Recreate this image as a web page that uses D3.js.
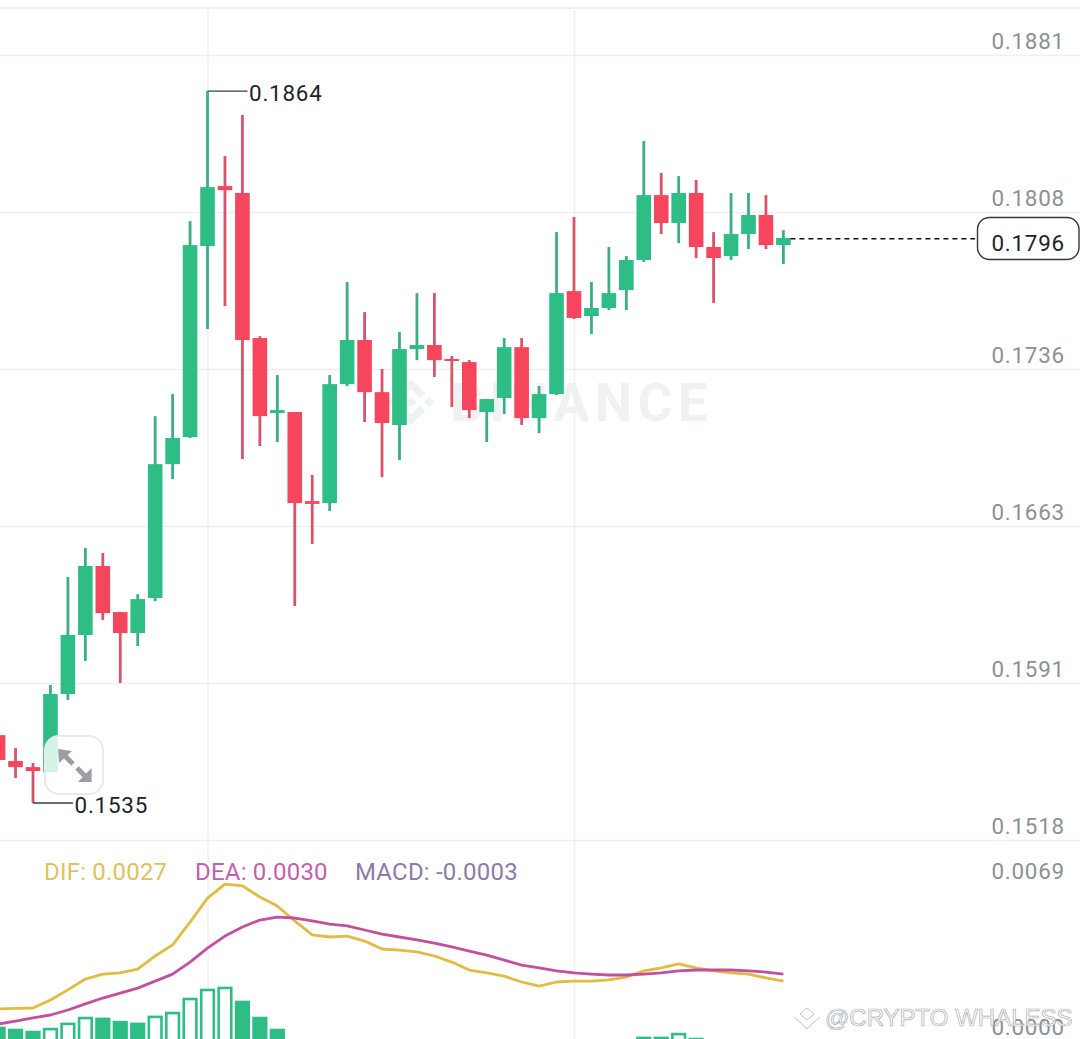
<!DOCTYPE html>
<html>
<head>
<meta charset="utf-8">
<style>
  html, body { margin: 0; padding: 0; background: #fff; overflow: hidden; }
  svg { display: block; font-family: Roboto, sans-serif; }
</style>
<script src="https://cdn.jsdelivr.net/npm/d3@7"></script>
</head>
<body>
<svg></svg>
<script>
// candles
var opens = [0.15665,0.15545,0.15517,0.15494,0.15855,0.16128,0.16447,0.16234,0.16137,0.16299,0.16918,0.17043,0.17927,0.18204,0.18172,0.17501,0.17154,0.17159,0.16747,0.16738,0.17288,0.17492,0.17251,0.17099,0.17450,0.17469,0.17404,0.17390,0.17159,0.17224,0.17459,0.17131,0.17242,0.17718,0.17603,0.17640,0.17723,0.17862,0.18162,0.18033,0.18172,0.17922,0.17880,0.17982,0.18070,0.17931];
var highs = [0.15665,0.15605,0.15536,0.15897,0.16396,0.16530,0.16507,0.16234,0.16317,0.17140,0.17242,0.18042,0.18643,0.18343,0.18532,0.17510,0.17330,0.17159,0.16868,0.17330,0.17760,0.17621,0.17358,0.17529,0.17709,0.17709,0.17418,0.17399,0.17219,0.17501,0.17501,0.17279,0.17991,0.18061,0.17760,0.17922,0.17880,0.18412,0.18264,0.18250,0.18232,0.17991,0.18172,0.18172,0.18162,0.18000];
var lows = [0.15541,0.15467,0.15351,0.15494,0.15827,0.16008,0.16197,0.15906,0.16077,0.16285,0.16849,0.17039,0.17543,0.17649,0.16942,0.17002,0.17020,0.16262,0.16549,0.16701,0.17279,0.17113,0.16858,0.16937,0.17399,0.17321,0.17182,0.17131,0.17020,0.17150,0.17099,0.17062,0.17238,0.17589,0.17520,0.17631,0.17631,0.17853,0.17982,0.17940,0.17871,0.17663,0.17862,0.17913,0.17913,0.17843];
var closes = [0.15550,0.15517,0.15499,0.15855,0.16128,0.16447,0.16229,0.16137,0.16294,0.16918,0.17039,0.17931,0.18199,0.18185,0.17492,0.17140,0.17168,0.16738,0.16734,0.17288,0.17492,0.17251,0.17108,0.17450,0.17469,0.17399,0.17395,0.17168,0.17219,0.17459,0.17131,0.17242,0.17709,0.17594,0.17640,0.17709,0.17862,0.18162,0.18033,0.18172,0.17922,0.17871,0.17982,0.18070,0.17931,0.17964];

// MACD panel
var dif = [0.00142,0.00144,0.00146,0.00181,0.00226,0.00274,0.00296,0.00301,0.00318,0.00376,0.00425,0.00526,0.00632,0.00694,0.00686,0.00637,0.00597,0.00531,0.00469,0.00460,0.00464,0.00442,0.00407,0.00402,0.00394,0.00376,0.00349,0.00314,0.00301,0.00287,0.00261,0.00243,0.00261,0.00265,0.00265,0.00270,0.00283,0.00310,0.00323,0.00341,0.00323,0.00310,0.00301,0.00296,0.00279,0.00265];
var dea = [0.00075,0.00088,0.00102,0.00115,0.00137,0.00164,0.00190,0.00212,0.00234,0.00265,0.00296,0.00349,0.00411,0.00464,0.00504,0.00535,0.00548,0.00544,0.00531,0.00517,0.00509,0.00491,0.00473,0.00460,0.00447,0.00433,0.00416,0.00398,0.00380,0.00358,0.00336,0.00323,0.00310,0.00301,0.00296,0.00292,0.00292,0.00296,0.00301,0.00310,0.00314,0.00314,0.00314,0.00310,0.00305,0.00296];
// null = bar hangs below the bottom edge of the photo
var macdBars = [0.00062,0.00053,0.00044,0.00057,0.00080,0.00106,0.00102,0.00088,0.00080,0.00111,0.00128,0.00190,0.00230,0.00239,0.00177,0.00106,0.00053,null,null,null,null,null,null,null,null,null,null,null,null,null,null,null,null,null,null,null,null,0.00018,0.00018,0.00035,0.00013,null,null,null,null,null];

var priceTicks = [0.1881, 0.18084, 0.17358, 0.16632, 0.15906, 0.1518];
var macdTicks = [0.0069, 0];
var gridCandles = [12, 33];
var lastPrice = 0.1796;
var highLabel = { index: 12, price: 0.18643, text: '0.1864' };
var lowLabel = { index: 2, price: 0.15351, text: '0.1535' };
var legend = [
  { text: 'DIF: 0.0027', x: 44, color: '#dfc25f' },
  { text: 'DEA: 0.0030', x: 195, color: '#c35fae' },
  { text: 'MACD: -0.0003', x: 355, color: '#8f7aa6' }
];

var width = 1080, height = 1039;
var green = '#2ebd85', red = '#f6465d', wickGreen = '#3cae86', wickRed = '#d9536b';
var gridColor = '#efefef', labelColor = '#8c9097', textColor = '#1e2329';

var svg = d3.select('svg').attr('width', width).attr('height', height);

var x = d3.scaleLinear().domain([0, 45]).range([-1.9, 783.4]);
var y = d3.scaleLinear().domain([0.1518, 0.1881]).range([840, 55]);
var macdY = d3.scaleLinear().domain([0, 0.0069]).range([1041, 885]);
var candleIdx = d3.range(opens.length);

// top rule
svg.append('line').attr('x1', 0).attr('x2', width).attr('y1', 8).attr('y2', 8)
  .attr('stroke', '#f2f2f2').attr('stroke-width', 2);

// BINANCE mark behind everything
var mark = svg.append('g').attr('fill', '#f0f1f2');
var logo = mark.append('g').attr('transform', 'translate(411,402) scale(1.4)');
logo.append('path').attr('d', 'M-6.4,-2.7L0,-9.1L6.4,-2.7L10.1,-6.4L0,-16.5L-10.1,-6.4Z');
logo.append('path').attr('d', 'M-6.4,2.7L0,9.1L6.4,2.7L10.1,6.4L0,16.5L-10.1,6.4Z');
[[-12.9, 0], [0, 0], [12.9, 0]].forEach(function(c) {
  logo.append('path').attr('d', 'M' + (c[0] - 3.7) + ',0L' + c[0] + ',-3.7L' + (c[0] + 3.7) + ',0L' + c[0] + ',3.7Z');
});
mark.append('text').attr('x', 450).attr('y', 421)
  .attr('font-size', 53).attr('font-weight', 700).attr('letter-spacing', 5.5)
  .text('BINANCE');

// grid from axes
var gridY = svg.append('g').attr('transform', 'translate(' + width + ',0)')
  .call(d3.axisLeft(y).tickValues(priceTicks).tickSize(width).tickFormat(''));
var gridX = svg.append('g').attr('transform', 'translate(0,10)')
  .call(d3.axisBottom(x).tickValues(gridCandles).tickSize(height).tickFormat(''));
[gridY, gridX].forEach(function(g) {
  g.select('.domain').remove();
  g.selectAll('line').attr('stroke', gridColor).attr('stroke-width', 1.5);
});

// axis labels sit above their grid line
function labelAxis(scale, values, fmt) {
  var g = svg.append('g').attr('transform', 'translate(1065,0)')
    .call(d3.axisLeft(scale).tickValues(values).tickSize(0).tickPadding(0).tickFormat(d3.format(fmt)));
  g.select('.domain').remove();
  g.selectAll('text')
    .attr('transform', 'translate(0,-14)')
    .attr('fill', labelColor)
    .attr('font-size', 22.4)
    .attr('font-family', 'Roboto, sans-serif')
    .attr('letter-spacing', 0.8);
}
labelAxis(y, priceTicks, '.4f');
labelAxis(macdY, macdTicks, '.4f');

// candles
var candles = svg.append('g').selectAll('g').data(candleIdx).join('g');
candles.append('line')
  .attr('x1', function(i) { return x(i); })
  .attr('x2', function(i) { return x(i); })
  .attr('y1', function(i) { return y(highs[i]); })
  .attr('y2', function(i) { return y(lows[i]); })
  .attr('stroke', function(i) { return closes[i] >= opens[i] ? wickGreen : wickRed; })
  .attr('stroke-width', 2.8);
candles.append('rect')
  .attr('x', function(i) { return x(i) - 7.3; })
  .attr('width', 14.6)
  .attr('y', function(i) { return y(Math.max(opens[i], closes[i])); })
  .attr('height', function(i) { return Math.abs(y(opens[i]) - y(closes[i])); })
  .attr('fill', function(i) { return closes[i] >= opens[i] ? green : red; });

// MACD bars: hollow while the histogram is rising
var barIdx = candleIdx.filter(function(i) { return macdBars[i] !== null; });
svg.append('g').selectAll('rect').data(barIdx).join('rect')
  .attr('x', function(i) { return x(i) - 6.3; })
  .attr('width', 12.6)
  .attr('y', function(i) { return macdY(macdBars[i]) + 1; })
  .attr('height', function(i) { return macdY(0) - macdY(macdBars[i]); })
  .attr('stroke', green)
  .attr('stroke-width', 2.6)
  .attr('fill', function(i) {
    var prev = macdBars[i - 1];
    if (i === 0) return green;
    return prev === null || macdBars[i] >= prev ? '#fff' : green;
  });

// DIF and DEA
var macdLine = d3.line()
  .x(function(d, i) { return x(i); })
  .y(function(d) { return macdY(d); });
svg.append('path').datum(dif).attr('d', macdLine)
  .attr('fill', 'none').attr('stroke', '#e2bb42').attr('stroke-width', 2.8).attr('stroke-linejoin', 'round');
svg.append('path').datum(dea).attr('d', macdLine)
  .attr('fill', 'none').attr('stroke', '#c2509f').attr('stroke-width', 2.8).attr('stroke-linejoin', 'round');

// legend
svg.append('g').selectAll('text').data(legend).join('text')
  .attr('x', function(d) { return d.x; })
  .attr('y', 879.5)
  .attr('font-size', 24)
  .attr('letter-spacing', 0.2)
  .attr('fill', function(d) { return d.color; })
  .text(function(d) { return d.text; });

// high and low callouts
[highLabel, lowLabel].forEach(function(d) {
  var px = x(d.index), py = y(d.price);
  svg.append('line').attr('x1', px).attr('x2', px + 40).attr('y1', py).attr('y2', py)
    .attr('stroke', '#3b4046').attr('stroke-width', 1.4);
  svg.append('text').attr('x', px + 41.5).attr('y', py + 10)
    .attr('font-size', 22.4).attr('letter-spacing', 0.8).attr('fill', textColor)
    .text(d.text);
});

// current price line and box
svg.append('line')
  .attr('x1', x(45) + 7).attr('x2', 975)
  .attr('y1', y(lastPrice)).attr('y2', y(lastPrice))
  .attr('stroke', '#111').attr('stroke-width', 1.5).attr('stroke-dasharray', '5 4');
svg.append('rect').attr('x', 977.5).attr('y', 217.5).attr('width', 101.5).attr('height', 42).attr('rx', 12)
  .attr('fill', '#fff').attr('stroke', '#33373c').attr('stroke-width', 1.4);
svg.append('text').attr('x', 1065).attr('y', y(lastPrice) + 12)
  .attr('text-anchor', 'end').attr('font-size', 22.4).attr('letter-spacing', 0.8).attr('fill', textColor)
  .text('0.1796');

// expand button
var btn = svg.append('g');
btn.append('rect').attr('x', 45).attr('y', 736).attr('width', 58).attr('height', 58).attr('rx', 14)
  .attr('fill', 'rgba(255,255,255,0.8)').attr('stroke', '#e8eaec').attr('stroke-width', 2);
btn.append('path').attr('d', 'M58,749L72,751L59,763Z M91.6,782L78,782L91.6,768Z').attr('fill', '#9b9ea4');
btn.append('path').attr('d', 'M64,755L73,764 M77,768L85,776').attr('stroke', '#9b9ea4').attr('stroke-width', 5);

// repost watermark, bottom right
var stamp = svg.append('g').attr('fill', 'rgba(255,255,255,0.85)').attr('stroke', '#a9acb0').attr('stroke-width', 0.7);
stamp.append('text').attr('x', 825).attr('y', 1026)
  .attr('font-family', '"Liberation Sans", sans-serif').attr('font-size', 24)
  .text('@CRYPTO WHALESS');
stamp.append('path').attr('fill', 'none')
  .attr('d', 'M807,1008L814,1014L807,1020L800,1014Z M794,1017L800,1022 M820,1017L814,1022 M800,1022L807,1029L814,1022');
</script>
</body>
</html>
